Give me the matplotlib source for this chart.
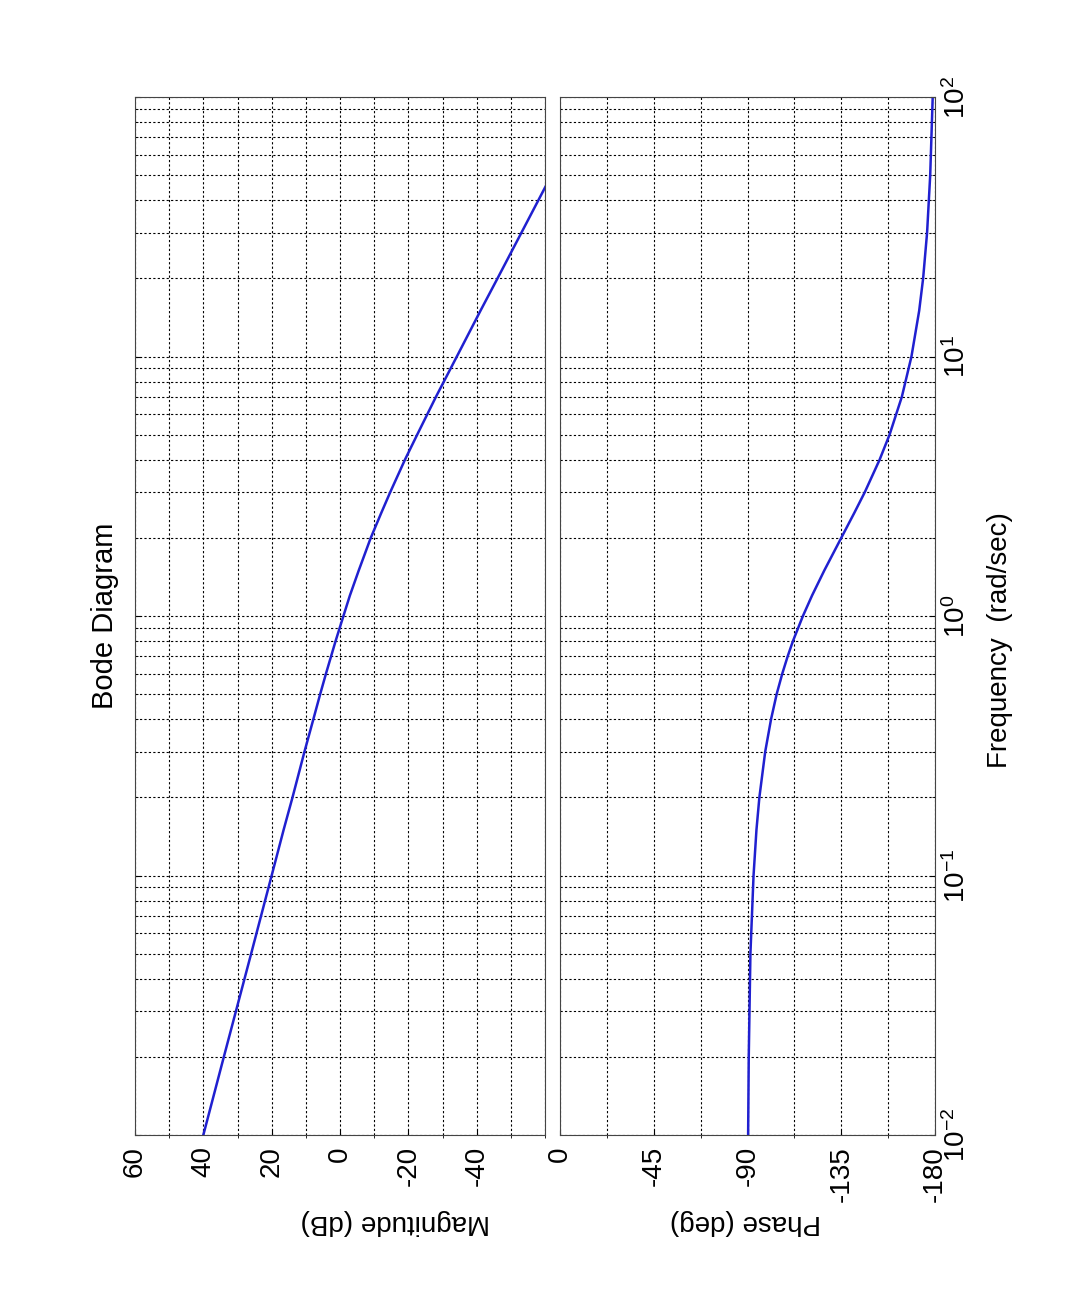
import matplotlib
matplotlib.use("Agg")
import matplotlib.pyplot as plt
from matplotlib.ticker import LogLocator, MultipleLocator, NullFormatter

plt.rcParams["font.family"] = ["Liberation Sans", "DejaVu Sans"]
plt.rcParams["axes.unicode_minus"] = False
plt.rcParams["mathtext.fontset"] = "custom"
plt.rcParams["mathtext.rm"] = "Liberation Sans"

# values (chart is shown rotated 90 deg counter-clockwise)
freq = [0.01, 0.02, 0.05, 0.1, 0.15, 0.2, 0.3, 0.4, 0.5, 0.6, 0.7, 0.8, 1, 1.2, 1.5, 2,
        2.5, 3, 4, 5, 7, 10, 15, 20, 30, 50, 100]
mag_db = [40.0, 34.0, 26.0, 20.0, 16.5, 13.9, 10.4, 7.8, 5.8, 4.1, 2.6, 1.3, -1.0, -2.9,
          -5.5, -9.0, -12.1, -14.7, -19.0, -22.6, -28.1, -34.2, -41.1, -46.1, -53.1,
          -61.9, -74.0]
phase_deg = [-90.3, -90.6, -91.4, -92.9, -94.3, -95.7, -98.5, -101.3, -104.0, -106.7,
             -109.3, -111.8, -116.6, -121.0, -126.9, -135.0, -141.3, -146.3, -153.4,
             -158.2, -164.1, -168.7, -172.4, -174.3, -176.2, -177.7, -178.9]
mag_ticks = [60, 40, 20, 0, -20, -40]
phase_ticks = [0, -45, -90, -135, -180]

W, H = 1080, 1292
fig = plt.figure(figsize=(W / 100, H / 100), dpi=100)
fs = 20


def rect(x0, x1, y0, y1):
    return [x0 / W, (H - y1) / H, (x1 - x0) / W, (y1 - y0) / H]


ax1 = fig.add_axes(rect(135, 545, 97, 1135))
ax2 = fig.add_axes(rect(560, 935, 97, 1135))

line_col = "#2020d0"
ax1.plot(mag_db, freq, color=line_col, lw=1.8)
ax2.plot(phase_deg, freq, color=line_col, lw=1.8)

ax1.set_xlim(60, -60)
ax2.set_xlim(0, -180)
ax1.set_xticks(mag_ticks)
ax2.set_xticks(phase_ticks)
ax1.xaxis.set_minor_locator(MultipleLocator(10))
ax2.xaxis.set_minor_locator(MultipleLocator(22.5))

for ax in (ax1, ax2):
    ax.set_yscale("log")
    ax.set_ylim(0.01, 100)
    ax.yaxis.set_major_locator(LogLocator(base=10, numticks=10))
    ax.yaxis.set_minor_locator(LogLocator(base=10, subs=range(2, 10), numticks=20))
    ax.yaxis.set_minor_formatter(NullFormatter())
    ax.grid(True, which="both", ls=(0, (2, 2)), color="black", lw=0.8)
    ax.tick_params(axis="x", labelsize=fs, labelrotation=90, direction="in", pad=8)
    ax.tick_params(axis="y", labelsize=fs, labelrotation=90, direction="in", which="both")
    for s in ax.spines.values():
        s.set_color("#444444")

ax1.tick_params(axis="y", labelleft=False, labelright=False)
ax2.yaxis.tick_right()
ax2.tick_params(axis="y", labelright=True, labelleft=False, pad=6)
for lab in ax2.get_yticklabels():
    lab.set_va("center")

fig.text(395 / W, 1 - 1222 / H, "Magnitude (dB)", rotation=180, fontsize=fs,
         ha="center", va="center")
fig.text(745 / W, 1 - 1222 / H, "Phase (deg)", rotation=180, fontsize=fs,
         ha="center", va="center")
fig.text(105 / W, 1 - 616 / H, "Bode Diagram", rotation=90, fontsize=fs + 1,
         ha="center", va="center")
fig.text(1000 / W, 1 - 640 / H, "Frequency  (rad/sec)", rotation=90, fontsize=fs,
         ha="center", va="center")

fig.savefig("out.png", dpi=100)
plt.close(fig)
